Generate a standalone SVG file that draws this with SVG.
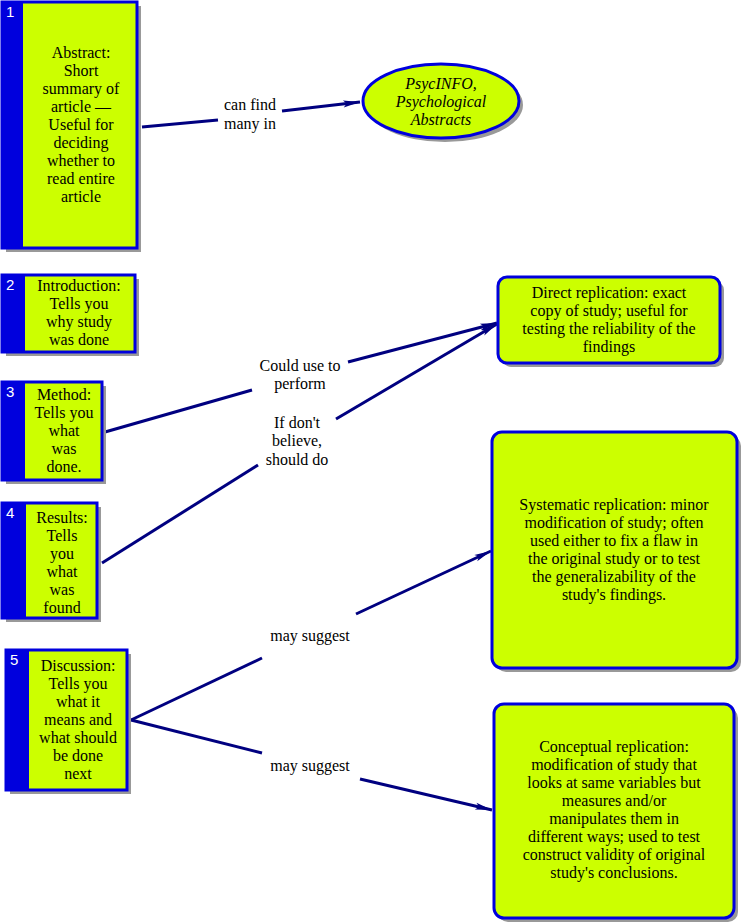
<svg xmlns="http://www.w3.org/2000/svg" width="741" height="923" viewBox="0 0 741 923">
<style>
text{font-family:"Liberation Serif",serif;font-size:16px;fill:#000;text-anchor:middle}
.num{font-family:"Liberation Sans",sans-serif;fill:#fff;font-size:15px;text-anchor:start}
.g{fill:#ccff00;stroke:#0000dd;stroke-width:3}
.bar{fill:#0000dd}
.sh{fill:#999}
.e{stroke:#000080;stroke-width:3;fill:none;marker-end:url(#a)}
.l{stroke:#000080;stroke-width:3;fill:none}
</style>
<defs><marker id="a" viewBox="0 0 10 10" refX="9" refY="5" markerWidth="9" markerHeight="7" markerUnits="userSpaceOnUse" orient="auto" overflow="visible"><path d="M0,0L24,5L0,10L5,5z" fill="#000080" transform="translate(-15,0)"/></marker></defs>
<rect width="741" height="923" fill="#fff"/>
<g id="connectors">
<path class="l" d="M142,127L218,120"/><path class="e" d="M282,111L360,102"/>
<path class="l" d="M105,432L252,390"/><path class="e" d="M348,362L497,323"/>
<path class="l" d="M102,563L258,465"/><path class="e" d="M336,419L497,324"/>
<path class="l" d="M131,720L262,658"/><path class="e" d="M356,614L491,551"/>
<path class="l" d="M131,720L262,753"/><path class="e" d="M360,779L492,810"/>
</g>
<g id="labels">
<text x="250" y="110">can find</text><text x="250" y="129">many in</text>
<text x="300" y="371">Could use to</text><text x="300" y="389">perform</text>
<text x="297" y="428">If don't</text><text x="297" y="446">believe,</text><text x="297" y="465">should do</text>
<text x="310" y="641">may suggest</text>
<text x="310" y="771">may suggest</text>
</g>
<g id="n1"><rect class="sh" x="6" y="6" width="135" height="246"/><rect class="g" x="2" y="2" width="135" height="246"/><rect class="bar" x="1" y="1" width="22" height="248"/><text class="num" x="6" y="17">1</text>
<text x="81" y="58">Abstract:</text><text x="81" y="76">Short</text><text x="81" y="94">summary of</text><text x="81" y="112">article  —</text><text x="81" y="130">Useful for</text><text x="81" y="148">deciding</text><text x="81" y="166">whether to</text><text x="81" y="184">read entire</text><text x="81" y="202">article</text></g>
<g id="n2"><rect class="sh" x="6" y="279" width="133" height="77"/><rect class="g" x="2" y="275" width="133" height="77"/><rect class="bar" x="1" y="274" width="24" height="79"/><text class="num" x="6" y="290">2</text>
<text x="79" y="291">Introduction:</text><text x="79" y="309">Tells you</text><text x="79" y="327">why study</text><text x="79" y="345">was done</text></g>
<g id="n3"><rect class="sh" x="6" y="386" width="100" height="98"/><rect class="g" x="2" y="382" width="100" height="98"/><rect class="bar" x="1" y="381" width="24" height="100"/><text class="num" x="6" y="397">3</text>
<text x="64" y="400">Method:</text><text x="64" y="418">Tells you</text><text x="64" y="436">what</text><text x="64" y="454">was</text><text x="64" y="472">done.</text></g>
<g id="n4"><rect class="sh" x="6" y="507" width="95" height="115"/><rect class="g" x="2" y="503" width="95" height="115"/><rect class="bar" x="1" y="502" width="25" height="117"/><text class="num" x="6" y="518">4</text>
<text x="62" y="523">Results:</text><text x="62" y="541">Tells</text><text x="62" y="559">you</text><text x="62" y="577">what</text><text x="62" y="595">was</text><text x="62" y="613">found</text></g>
<g id="n5"><rect class="sh" x="10" y="654" width="121" height="140"/><rect class="g" x="6" y="650" width="121" height="140"/><rect class="bar" x="5" y="649" width="24" height="142"/><text class="num" x="10" y="665">5</text>
<text x="78" y="671">Discussion:</text><text x="78" y="689">Tells you</text><text x="78" y="707">what it</text><text x="78" y="725">means and</text><text x="78" y="743">what should</text><text x="78" y="761">be done</text><text x="78" y="779">next</text></g>
<g id="n6"><ellipse class="sh" cx="445" cy="105" rx="78" ry="37"/><ellipse class="g" cx="441" cy="101" rx="78" ry="37"/>
<text x="441" y="89" font-style="italic">PsycINFO,</text><text x="441" y="107" font-style="italic">Psychological</text><text x="441" y="125" font-style="italic">Abstracts</text></g>
<g id="n7"><rect class="sh" x="502" y="281" width="222" height="86" rx="9"/><rect class="g" x="498" y="277" width="222" height="86" rx="9"/>
<text x="609" y="298">Direct replication: exact</text><text x="609" y="316">copy of study; useful for</text><text x="609" y="334">testing the reliability of the</text><text x="609" y="352">findings</text></g>
<g id="n8"><rect class="sh" x="496" y="436" width="245" height="236" rx="10"/><rect class="g" x="492" y="432" width="245" height="236" rx="10"/>
<text x="614" y="510">Systematic replication: minor</text><text x="614" y="528">modification of study; often</text><text x="614" y="546">used either to fix a flaw in</text><text x="614" y="564">the original study or to test</text><text x="614" y="582">the generalizability of the</text><text x="614" y="600">study's findings.</text></g>
<g id="n9"><rect class="sh" x="498" y="708" width="240" height="214" rx="10"/><rect class="g" x="494" y="704" width="240" height="214" rx="10"/>
<text x="614" y="752">Conceptual replication:</text><text x="614" y="770">modification of study that</text><text x="614" y="788">looks at same variables but</text><text x="614" y="806">measures and/or</text><text x="614" y="824">manipulates them in</text><text x="614" y="842">different ways; used to test</text><text x="614" y="860">construct validity of original</text><text x="614" y="878">study's conclusions.</text></g>
</svg>
